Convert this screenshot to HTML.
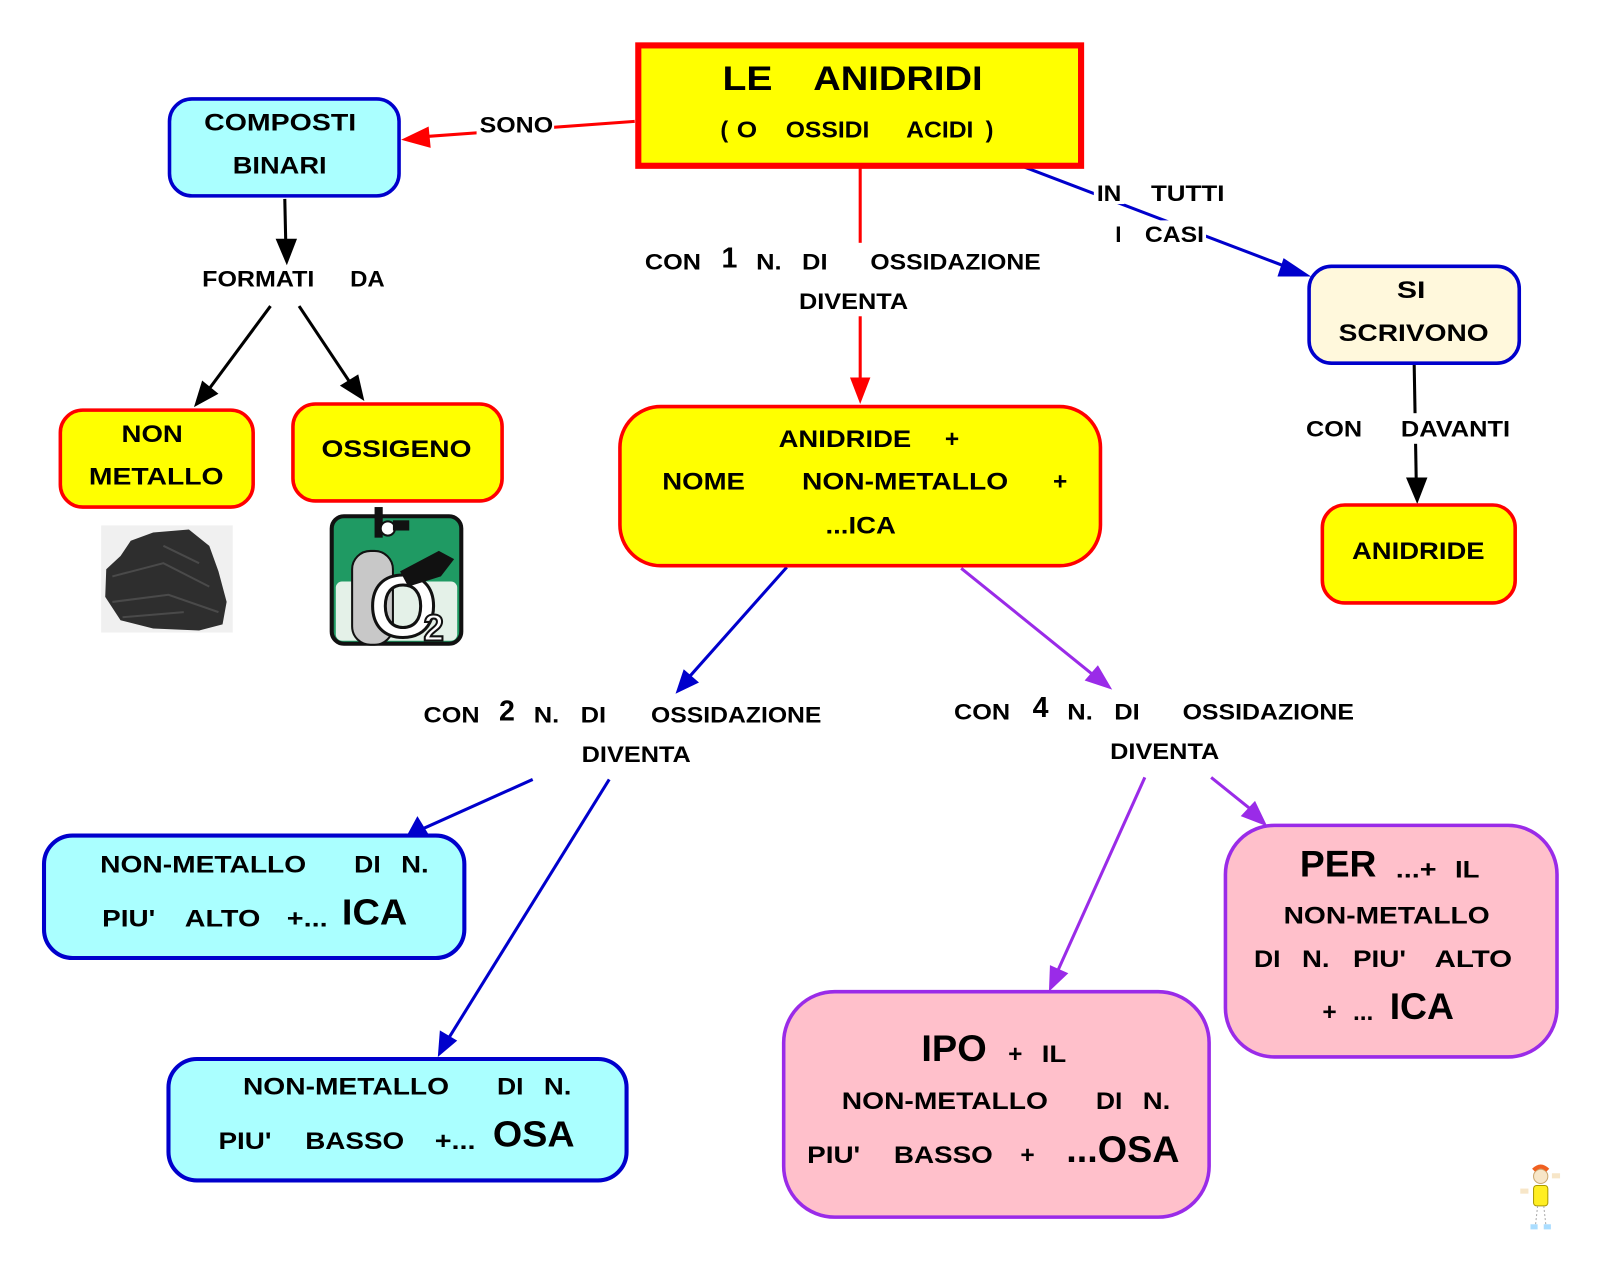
<!DOCTYPE html>
<html><head><meta charset="utf-8"><style>
html,body{margin:0;padding:0;background:#fff;}
svg{display:block;}
text{font-family:"Liberation Sans",Arial,sans-serif;font-weight:bold;fill:#000;}
</style></head><body>
<svg width="1600" height="1261" viewBox="0 0 1568 1236" xmlns="http://www.w3.org/2000/svg">
<rect width="1568" height="1236" fill="#fff"/>

<!-- connectors -->
<g stroke-width="3" fill="none">
<line x1="622" y1="119" x2="415" y2="134" stroke="#f00"/>
<line x1="843" y1="165" x2="843" y2="372" stroke="#f00"/>
<line x1="1002" y1="163" x2="1262" y2="262" stroke="#00c"/>
<line x1="279" y1="195" x2="280" y2="240" stroke="#000"/>
<line x1="265" y1="300" x2="205" y2="381" stroke="#000"/>
<line x1="293" y1="300" x2="343" y2="375" stroke="#000"/>
<line x1="1386" y1="357" x2="1388" y2="470" stroke="#000"/>
<line x1="771" y1="556" x2="675" y2="664" stroke="#00c"/>
<line x1="942" y1="557" x2="1072" y2="662" stroke="#9a2be8"/>
<line x1="522" y1="764" x2="415" y2="812" stroke="#00c"/>
<line x1="597" y1="764" x2="440" y2="1017" stroke="#00c"/>
<line x1="1122" y1="762" x2="1036" y2="953" stroke="#9a2be8"/>
<line x1="1187" y1="762" x2="1228" y2="795" stroke="#9a2be8"/>
</g>
<!-- white gaps for labels -->
<rect x="467" y="108" width="76" height="26" fill="#fff"/>
<rect x="625" y="238" width="400" height="72" fill="#fff"/>
<rect x="1072" y="176" width="30" height="24" fill="#fff"/>
<rect x="1126" y="176" width="78" height="24" fill="#fff"/>
<rect x="1090" y="216" width="12" height="24" fill="#fff"/>
<rect x="1119" y="216" width="63" height="24" fill="#fff"/>
<rect x="1275" y="405" width="210" height="30" fill="#fff"/>
<rect x="190" y="258" width="195" height="32" fill="#fff"/>
<!-- arrowheads -->
<polygon points="393,137 420,124 422,145" fill="#f00"/>
<polygon points="843,396 833,370 853,370" fill="#f00"/>
<polygon points="1285,271 1258,253 1252,271" fill="#00c"/>
<polygon points="281,260 270,234 291,234" fill="#000"/>
<polygon points="190,399 198,373 214,386" fill="#000"/>
<polygon points="357,393 333,378 351,367" fill="#000"/>
<polygon points="1389,494 1378,468 1399,468" fill="#000"/>
<polygon points="662,680 670,656 685,669" fill="#00c"/>
<polygon points="1090,676 1063,667 1076,652" fill="#9a2be8"/>
<polygon points="397,822 409,800 420,818" fill="#00c"/>
<polygon points="429,1036 431,1010 448,1020" fill="#00c"/>
<polygon points="1028,972 1029,946 1047,954" fill="#9a2be8"/>
<polygon points="1242,810 1216,800 1230,785" fill="#9a2be8"/>

<!-- title -->
<rect x="625.5" y="44.5" width="434" height="118" fill="#ff0" stroke="#f00" stroke-width="6"/>
<text x="708" y="88" font-size="34" textLength="49" lengthAdjust="spacingAndGlyphs">LE</text>
<text x="797" y="88" font-size="34" textLength="166" lengthAdjust="spacingAndGlyphs">ANIDRIDI</text>
<text x="706" y="135" font-size="23">(</text>
<text x="722" y="135" font-size="23" textLength="20" lengthAdjust="spacingAndGlyphs">O</text>
<text x="770" y="135" font-size="23" textLength="82" lengthAdjust="spacingAndGlyphs">OSSIDI</text>
<text x="888" y="135" font-size="23" textLength="66" lengthAdjust="spacingAndGlyphs">ACIDI</text>
<text x="966" y="135" font-size="23">)</text>

<text x="470" y="130" font-size="22" textLength="72" lengthAdjust="spacingAndGlyphs">SONO</text>

<!-- composti -->
<rect x="166" y="97" width="225" height="95" rx="22" fill="#aaffff" stroke="#00c" stroke-width="3.5"/>
<text x="200" y="128" font-size="24" textLength="149" lengthAdjust="spacingAndGlyphs">COMPOSTI</text>
<text x="228" y="170" font-size="24" textLength="92" lengthAdjust="spacingAndGlyphs">BINARI</text>

<text x="198" y="281" font-size="22" textLength="110" lengthAdjust="spacingAndGlyphs">FORMATI</text>
<text x="343" y="281" font-size="22" textLength="34" lengthAdjust="spacingAndGlyphs">DA</text>

<rect x="59" y="402" width="189" height="95" rx="22" fill="#ff0" stroke="#f00" stroke-width="3.5"/>
<text x="119" y="433" font-size="24" textLength="60" lengthAdjust="spacingAndGlyphs">NON</text>
<text x="87" y="475" font-size="24" textLength="132" lengthAdjust="spacingAndGlyphs">METALLO</text>

<rect x="287" y="396" width="205" height="95" rx="22" fill="#ff0" stroke="#f00" stroke-width="3.5"/>
<text x="315" y="448" font-size="24" textLength="147" lengthAdjust="spacingAndGlyphs">OSSIGENO</text>

<!-- rock -->
<rect x="99" y="515" width="129" height="105" fill="#f0f0f0"/>
<path d="M104,558 L118,545 L128,530 L150,522 L185,519 L205,535 L214,560 L222,590 L218,612 L195,618 L150,616 L118,608 L103,585 Z" fill="#2e2e2e"/>
<path d="M110,565 L160,552 L205,575 M110,590 L165,583 L214,600 M160,535 L195,552 M120,605 L180,600" stroke="#4a4a4a" stroke-width="2" fill="none"/>

<!-- O2 icon -->
<rect x="325" y="506" width="127" height="125" rx="12" fill="#1f9a63" stroke="#111" stroke-width="4"/>
<rect x="329" y="570" width="119" height="58" rx="6" fill="#e4f1e8"/>
<rect x="345" y="540" width="40" height="92" rx="18" fill="#c8c8c8" stroke="#111" stroke-width="2"/>
<rect x="367" y="497" width="8" height="30" fill="#111"/>
<circle cx="380" cy="518" r="7" fill="#fff" stroke="#111" stroke-width="2"/>
<rect x="385" y="510" width="16" height="10" fill="#111"/>
<text x="395" y="624" font-size="86" text-anchor="middle" style="fill:#fff;stroke:#111;stroke-width:3">O</text>
<text x="425" y="628" font-size="36" text-anchor="middle" style="fill:#fff;stroke:#111;stroke-width:2">2</text>
<path d="M392,560 L430,540 L445,548 L432,565 L400,575 Z" fill="#111"/>

<!-- con 1 -->
<text x="632" y="264" font-size="22" textLength="55" lengthAdjust="spacingAndGlyphs">CON</text>
<text x="707" y="262" font-size="28">1</text>
<text x="741" y="264" font-size="22" textLength="25" lengthAdjust="spacingAndGlyphs">N.</text>
<text x="786" y="264" font-size="22" textLength="25" lengthAdjust="spacingAndGlyphs">DI</text>
<text x="853" y="264" font-size="22" textLength="167" lengthAdjust="spacingAndGlyphs">OSSIDAZIONE</text>
<text x="783" y="303" font-size="22" textLength="107" lengthAdjust="spacingAndGlyphs">DIVENTA</text>

<!-- in tutti -->
<text x="1075" y="197" font-size="22" textLength="24" lengthAdjust="spacingAndGlyphs">IN</text>
<text x="1128" y="197" font-size="22" textLength="72" lengthAdjust="spacingAndGlyphs">TUTTI</text>
<text x="1093" y="237" font-size="22">I</text>
<text x="1122" y="237" font-size="22" textLength="58" lengthAdjust="spacingAndGlyphs">CASI</text>

<rect x="1283" y="261" width="206" height="95" rx="22" fill="#fff8dc" stroke="#00c" stroke-width="3.5"/>
<text x="1369" y="292" font-size="24" textLength="28" lengthAdjust="spacingAndGlyphs">SI</text>
<text x="1312" y="334" font-size="24" textLength="147" lengthAdjust="spacingAndGlyphs">SCRIVONO</text>

<text x="1280" y="428" font-size="22" textLength="55" lengthAdjust="spacingAndGlyphs">CON</text>
<text x="1373" y="428" font-size="22" textLength="107" lengthAdjust="spacingAndGlyphs">DAVANTI</text>

<rect x="1296" y="495" width="189" height="96" rx="22" fill="#ff0" stroke="#f00" stroke-width="3.5"/>
<text x="1325" y="548" font-size="24" textLength="130" lengthAdjust="spacingAndGlyphs">ANIDRIDE</text>

<!-- anidride big -->
<rect x="607.5" y="398.5" width="471" height="156" rx="40" fill="#ff0" stroke="#f00" stroke-width="3.5"/>
<text x="763" y="438" font-size="24" textLength="130" lengthAdjust="spacingAndGlyphs">ANIDRIDE</text>
<text x="926" y="438" font-size="24">+</text>
<text x="649" y="480" font-size="24" textLength="81" lengthAdjust="spacingAndGlyphs">NOME</text>
<text x="786" y="480" font-size="24" textLength="202" lengthAdjust="spacingAndGlyphs">NON-METALLO</text>
<text x="1032" y="480" font-size="24">+</text>
<text x="809" y="523" font-size="24" textLength="69" lengthAdjust="spacingAndGlyphs">...ICA</text>

<!-- con 2 -->
<text x="415" y="708" font-size="22" textLength="55" lengthAdjust="spacingAndGlyphs">CON</text>
<text x="489" y="706" font-size="28">2</text>
<text x="523" y="708" font-size="22" textLength="25" lengthAdjust="spacingAndGlyphs">N.</text>
<text x="569" y="708" font-size="22" textLength="25" lengthAdjust="spacingAndGlyphs">DI</text>
<text x="638" y="708" font-size="22" textLength="167" lengthAdjust="spacingAndGlyphs">OSSIDAZIONE</text>
<text x="570" y="747" font-size="22" textLength="107" lengthAdjust="spacingAndGlyphs">DIVENTA</text>

<!-- con 4 -->
<text x="935" y="705" font-size="22" textLength="55" lengthAdjust="spacingAndGlyphs">CON</text>
<text x="1012" y="703" font-size="28">4</text>
<text x="1046" y="705" font-size="22" textLength="25" lengthAdjust="spacingAndGlyphs">N.</text>
<text x="1092" y="705" font-size="22" textLength="25" lengthAdjust="spacingAndGlyphs">DI</text>
<text x="1159" y="705" font-size="22" textLength="168" lengthAdjust="spacingAndGlyphs">OSSIDAZIONE</text>
<text x="1088" y="744" font-size="22" textLength="107" lengthAdjust="spacingAndGlyphs">DIVENTA</text>

<!-- cyan boxes -->
<rect x="43" y="819" width="412" height="120" rx="28" fill="#aaffff" stroke="#00c" stroke-width="4"/>
<text x="98" y="855" font-size="24" textLength="202" lengthAdjust="spacingAndGlyphs">NON-METALLO</text>
<text x="347" y="855" font-size="24" textLength="26" lengthAdjust="spacingAndGlyphs">DI</text>
<text x="393" y="855" font-size="24" textLength="27" lengthAdjust="spacingAndGlyphs">N.</text>
<text x="100" y="908" font-size="24" textLength="52" lengthAdjust="spacingAndGlyphs">PIU'</text>
<text x="181" y="908" font-size="24" textLength="74" lengthAdjust="spacingAndGlyphs">ALTO</text>
<text x="281" y="908" font-size="24" textLength="40" lengthAdjust="spacingAndGlyphs">+...</text>
<text x="335" y="906" font-size="35" textLength="64" lengthAdjust="spacingAndGlyphs">ICA</text>

<rect x="165" y="1038" width="449" height="119" rx="28" fill="#aaffff" stroke="#00c" stroke-width="4"/>
<text x="238" y="1073" font-size="24" textLength="202" lengthAdjust="spacingAndGlyphs">NON-METALLO</text>
<text x="487" y="1073" font-size="24" textLength="26" lengthAdjust="spacingAndGlyphs">DI</text>
<text x="533" y="1073" font-size="24" textLength="27" lengthAdjust="spacingAndGlyphs">N.</text>
<text x="214" y="1126" font-size="24" textLength="52" lengthAdjust="spacingAndGlyphs">PIU'</text>
<text x="299" y="1126" font-size="24" textLength="97" lengthAdjust="spacingAndGlyphs">BASSO</text>
<text x="426" y="1126" font-size="24" textLength="40" lengthAdjust="spacingAndGlyphs">+...</text>
<text x="483" y="1124" font-size="35" textLength="80" lengthAdjust="spacingAndGlyphs">OSA</text>

<!-- pink boxes -->
<rect x="1201" y="809" width="325" height="227" rx="48" fill="#ffc0cb" stroke="#9a2be8" stroke-width="3.5"/>
<text x="1274" y="859" font-size="36" textLength="75" lengthAdjust="spacingAndGlyphs">PER</text>
<text x="1368" y="860" font-size="24" textLength="40" lengthAdjust="spacingAndGlyphs">...+</text>
<text x="1426" y="860" font-size="24" textLength="24" lengthAdjust="spacingAndGlyphs">IL</text>
<text x="1258" y="905" font-size="24" textLength="202" lengthAdjust="spacingAndGlyphs">NON-METALLO</text>
<text x="1229" y="948" font-size="24" textLength="26" lengthAdjust="spacingAndGlyphs">DI</text>
<text x="1276" y="948" font-size="24" textLength="27" lengthAdjust="spacingAndGlyphs">N.</text>
<text x="1326" y="948" font-size="24" textLength="52" lengthAdjust="spacingAndGlyphs">PIU'</text>
<text x="1406" y="948" font-size="24" textLength="76" lengthAdjust="spacingAndGlyphs">ALTO</text>
<text x="1296" y="1000" font-size="24">+</text>
<text x="1326" y="1000" font-size="24">...</text>
<text x="1362" y="999" font-size="36" textLength="63" lengthAdjust="spacingAndGlyphs">ICA</text>

<rect x="768" y="972" width="417" height="221" rx="50" fill="#ffc0cb" stroke="#9a2be8" stroke-width="3.5"/>
<text x="903" y="1040" font-size="36" textLength="64" lengthAdjust="spacingAndGlyphs">IPO</text>
<text x="988" y="1041" font-size="24">+</text>
<text x="1021" y="1041" font-size="24" textLength="24" lengthAdjust="spacingAndGlyphs">IL</text>
<text x="825" y="1087" font-size="24" textLength="202" lengthAdjust="spacingAndGlyphs">NON-METALLO</text>
<text x="1074" y="1087" font-size="24" textLength="26" lengthAdjust="spacingAndGlyphs">DI</text>
<text x="1120" y="1087" font-size="24" textLength="27" lengthAdjust="spacingAndGlyphs">N.</text>
<text x="791" y="1140" font-size="24" textLength="52" lengthAdjust="spacingAndGlyphs">PIU'</text>
<text x="876" y="1140" font-size="24" textLength="97" lengthAdjust="spacingAndGlyphs">BASSO</text>
<text x="1000" y="1140" font-size="24">+</text>
<text x="1045" y="1139" font-size="36" textLength="111" lengthAdjust="spacingAndGlyphs">...OSA</text>

<!-- figure -->
<g>
<circle cx="1510" cy="1153" r="7" fill="#f7e6c8" stroke="#c9a870" stroke-width="1"/>
<path d="M1503,1147 Q1510,1140 1517,1147" stroke="#f06020" stroke-width="4" fill="none"/>
<rect x="1503" y="1162" width="14" height="20" rx="3" fill="#ffee22" stroke="#aa9900" stroke-width="1"/>
<rect x="1490" y="1165" width="8" height="5" fill="#f7e6c8"/>
<rect x="1521" y="1150" width="8" height="5" fill="#f7e6c8"/>
<line x1="1507" y1="1182" x2="1505" y2="1200" stroke="#aaa" stroke-dasharray="2,2"/>
<line x1="1513" y1="1182" x2="1515" y2="1200" stroke="#aaa" stroke-dasharray="2,2"/>
<rect x="1500" y="1200" width="7" height="5" fill="#aaddff"/>
<rect x="1513" y="1200" width="7" height="5" fill="#aaddff"/>
</g>
</svg>
</body></html>
